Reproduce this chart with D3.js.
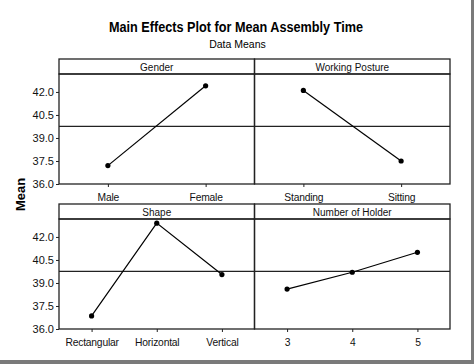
<!DOCTYPE html>
<html>
<head>
<meta charset="utf-8">
<script src="https://cdn.jsdelivr.net/npm/d3@7"></script>
<style>
  html, body { margin: 0; padding: 0; background: #fff; }
  svg { display: block; font-family: "Liberation Sans", Arial, sans-serif; }
</style>
</head>
<body>
<svg id="chart" width="474" height="364"></svg>
<script>
// ---- Data ----
const titleText = "Main Effects Plot for Mean Assembly Time";
const subtitleText = "Data Means";
const yLabel = "Mean";
const grandMean = 39.75;
const yTicks = [36.0, 37.5, 39.0, 40.5, 42.0];

const genderLevels = ["Male", "Female"];
const genderMeans = [37.2, 42.4];
const postureLevels = ["Standing", "Sitting"];
const postureMeans = [42.1, 37.5];
const shapeLevels = ["Rectangular", "Horizontal", "Vertical"];
const shapeMeans = [36.85, 42.9, 39.55];
const holderLevels = ["3", "4", "5"];
const holderMeans = [38.6, 39.7, 41.0];

const factors = [
  { name: "Gender", levels: genderLevels, means: genderMeans, row: 0, col: 0 },
  { name: "Working Posture", levels: postureLevels, means: postureMeans, row: 0, col: 1 },
  { name: "Shape", levels: shapeLevels, means: shapeMeans, row: 1, col: 0 },
  { name: "Number of Holder", levels: holderLevels, means: holderMeans, row: 1, col: 1 }
];

// ---- Layout ----
const svg = d3.select("#chart");
const panelLeft = 59, panelW = 195.5;
const rowTops = [59, 204];
const headerH = 15, plotH = 110;

// outer gray frame (right & bottom)
svg.append("rect").attr("x", 471).attr("y", 0).attr("width", 3).attr("height", 364).attr("fill", "#7a7a7a");
svg.append("rect").attr("x", 0).attr("y", 360).attr("width", 474).attr("height", 4).attr("fill", "#7a7a7a");

svg.append("text").attr("x", 236).attr("y", 32).attr("text-anchor", "middle")
  .attr("font-size", 14).attr("font-weight", "bold")
  .attr("textLength", 254).attr("lengthAdjust", "spacingAndGlyphs")
  .text(titleText);
svg.append("text").attr("x", 237.5).attr("y", 48).attr("text-anchor", "middle")
  .attr("font-size", 10.5).text(subtitleText);

svg.append("text").attr("transform", "translate(24.5,194.5) rotate(-90)")
  .attr("text-anchor", "middle").attr("font-size", 13).attr("font-weight", "bold")
  .text(yLabel);

factors.forEach(f => {
  const x0 = panelLeft + f.col * panelW;
  const top = rowTops[f.row];
  const plotTop = top + headerH;
  const plotBottom = plotTop + plotH;
  const g = svg.append("g");

  const x = d3.scalePoint().domain(f.levels).range([x0, x0 + panelW]).padding(0.5);
  const y = d3.scaleLinear().domain([36, 43.17]).range([plotBottom, plotTop]);

  // header
  g.append("rect").attr("x", x0).attr("y", top).attr("width", panelW).attr("height", headerH)
    .attr("fill", "none").attr("stroke", "#222").attr("stroke-width", 1.3);
  g.append("text").attr("x", x0 + panelW / 2).attr("y", top + 11.5).attr("text-anchor", "middle")
    .attr("font-size", 10).attr("fill", "#111").text(f.name);
  // plot frame
  g.append("rect").attr("x", x0).attr("y", plotTop).attr("width", panelW).attr("height", plotH)
    .attr("fill", "none").attr("stroke", "#222").attr("stroke-width", 1.3);

  // reference line
  g.append("line").attr("x1", x0).attr("x2", x0 + panelW)
    .attr("y1", y(grandMean)).attr("y2", y(grandMean))
    .attr("stroke", "#222").attr("stroke-width", 1.2);

  // x axis
  const xa = g.append("g").attr("transform", `translate(0,${plotBottom})`)
    .call(d3.axisBottom(x).tickSize(3).tickPadding(7));
  xa.select(".domain").remove();
  xa.selectAll("line").attr("stroke", "#222");
  xa.selectAll("text").attr("font-size", 10.3).attr("fill", "#111")
    .attr("font-family", "Liberation Sans, Arial, sans-serif").attr("letter-spacing", "-0.2");

  // y axis on left column only
  if (f.col === 0) {
    const ya = g.append("g").attr("transform", `translate(${x0},0)`)
      .call(d3.axisLeft(y).tickValues(yTicks).tickFormat(d3.format(".1f")).tickSize(3).tickPadding(2));
    ya.select(".domain").remove();
    ya.selectAll("line").attr("stroke", "#222");
    ya.selectAll("text").attr("font-size", 11).attr("fill", "#111")
      .attr("font-family", "Liberation Sans, Arial, sans-serif");
  }

  const pts = f.levels.map((l, i) => [x(l), y(f.means[i])]);
  g.append("path").attr("d", d3.line()(pts)).attr("fill", "none")
    .attr("stroke", "#000").attr("stroke-width", 1.2);
  g.selectAll("circle.pt").data(pts).enter().append("circle")
    .attr("cx", d => d[0]).attr("cy", d => d[1]).attr("r", 2.6).attr("fill", "#000");
});
</script>
</body>
</html>
